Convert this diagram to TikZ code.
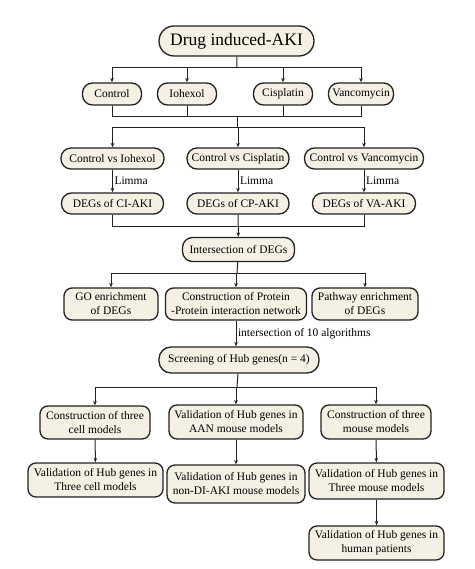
\documentclass[tikz,border=0pt]{standalone}
\usepackage{fontspec}
\setmainfont{Liberation Serif}
\usetikzlibrary{arrows.meta,positioning,calc}
\definecolor{boxfill}{HTML}{F4F0E4}
\definecolor{ink}{HTML}{222222}

\begin{document}
\begin{tikzpicture}[
    x=1pt, y=-1pt,
    box/.style={rectangle, rounded corners=#1, draw=ink, line width=1.3pt, fill=boxfill, align=center, inner sep=1pt, font=\fontsize{11.5}{14}\selectfont},
    box/.default=10pt,
    arrow/.style={->, >={Stealth[length=4.5pt,width=3.6pt]}, line width=1pt, draw=ink},
    link/.style={line width=1pt, draw=ink},
    lbl/.style={font=\fontsize{11.5}{14}\selectfont, inner sep=1.5pt}
]
    \useasboundingbox (0,0) rectangle (474,569);

    % Top: drug groups
    \node[box=15pt, minimum width=155pt, minimum height=30pt, font=\fontsize{17.5}{20}\selectfont] (aki) at (236.5,41) {Drug induced-AKI};
    \node[box, minimum width=59pt, minimum height=22pt] (control) at (112,94) {Control};
    \node[box, minimum width=59pt, minimum height=22pt] (iohexol) at (187,94) {Iohexol};
    \node[box, minimum width=59pt, minimum height=22pt] (cisplatin) at (283,94) {Cisplatin};
    \node[box, minimum width=65pt, minimum height=22pt] (vanco) at (361,94) {Vancomycin};

    % Comparisons and DEGs
    \node[box, minimum width=103pt, minimum height=21pt] (cvi) at (112.5,158.5) {Control vs Iohexol};
    \node[box, minimum width=102pt, minimum height=21pt] (cvc) at (238,158.5) {Control vs Cisplatin};
    \node[box, minimum width=119pt, minimum height=21pt] (cvv) at (364,158.5) {Control vs Vancomycin};
    \node[box, minimum width=102pt, minimum height=21pt] (degci) at (112.5,203.5) {DEGs of CI-AKI};
    \node[box, minimum width=102pt, minimum height=21pt] (degcp) at (238,203.5) {DEGs of CP-AKI};
    \node[box, minimum width=103pt, minimum height=21pt] (degva) at (364,203.5) {DEGs of VA-AKI};
    \node[box, minimum width=112pt, minimum height=24pt] (inter) at (238.5,249.5) {Intersection of DEGs};

    % Enrichment and network
    \node[box=8pt, minimum width=94pt, minimum height=32pt] (goenr) at (111,304) {GO enrichment\\of DEGs};
    \node[box=8pt, minimum width=141pt, minimum height=32pt] (ppi) at (236,304) {Construction of Protein\\-Protein interaction network};
    \node[box=8pt, minimum width=106pt, minimum height=32pt] (pathway) at (365,304) {Pathway enrichment\\of DEGs};
    \node[box=12pt, minimum width=160pt, minimum height=26pt] (hub) at (239,360) {Screening of Hub genes(n = 4)};

    % Validation
    \node[box=8pt, minimum width=110pt, minimum height=33pt] (cellmod) at (95,422.5) {Construction of three\\cell models};
    \node[box=8pt, minimum width=134pt, minimum height=34pt] (aan) at (236,422) {Validation of Hub genes in\\AAN mouse models};
    \node[box=8pt, minimum width=110pt, minimum height=34pt] (mousemod) at (376,422) {Construction of three\\mouse models};
    \node[box=8pt, minimum width=135pt, minimum height=34pt] (valcell) at (95.5,480) {Validation of Hub genes in\\Three cell models};
    \node[box=8pt, minimum width=138pt, minimum height=38pt] (valnon) at (236,484) {Validation of Hub genes in\\non-DI-AKI mouse models};
    \node[box=8pt, minimum width=135pt, minimum height=36pt] (valmouse) at (376.5,481) {Validation of Hub genes in\\Three mouse models};
    \node[box=8pt, minimum width=135pt, minimum height=34pt] (human) at (376.5,543) {Validation of Hub genes in\\human patients};

    % Bus points
    \coordinate (split1) at (237,68);
    \coordinate (merge1) at (237,117);
    \coordinate (split2) at (237,128);
    \coordinate (merge2) at (238,226);
    \coordinate (split3) at (237,273);
    \coordinate (split4) at (237,387);

    % Arrows
    \draw[link] (aki) -- (split1);
    \foreach \n in {control,iohexol,cisplatin,vanco}
        \draw[arrow] (split1) -| (\n);
    \foreach \n in {control,iohexol,cisplatin,vanco}
        \draw[link] (\n) |- (merge1);
    \draw[link] (merge1) -- (split2);
    \foreach \n in {cvi,cvc,cvv}
        \draw[arrow] (split2) -| (\n);
    \draw[arrow] (cvi) -- (degci) node[midway, right, lbl] {Limma};
    \draw[arrow] (cvc) -- (degcp) node[midway, right, lbl] {Limma};
    \draw[arrow] (cvv) -- (degva) node[midway, right, lbl] {Limma};
    \draw[link] (degci) |- (merge2);
    \draw[link] (degva) |- (merge2);
    \draw[arrow] (degcp) -- (inter);
    \draw[link] (inter) -- (split3);
    \foreach \n in {goenr,ppi,pathway}
        \draw[arrow] (split3) -| (\n);
    \draw[arrow] (ppi) -- (ppi |- hub.north) node[midway, right, lbl] {intersection of 10 algorithms};
    \draw[link] (hub) -- (split4);
    \foreach \n in {cellmod,aan,mousemod}
        \draw[arrow] (split4) -| (\n);
    \draw[arrow] (cellmod) -- (valcell);
    \draw[arrow] (aan) -- (valnon);
    \draw[arrow] (mousemod) -- (valmouse);
    \draw[arrow] (valmouse) -- (human);
\end{tikzpicture}
\end{document}
